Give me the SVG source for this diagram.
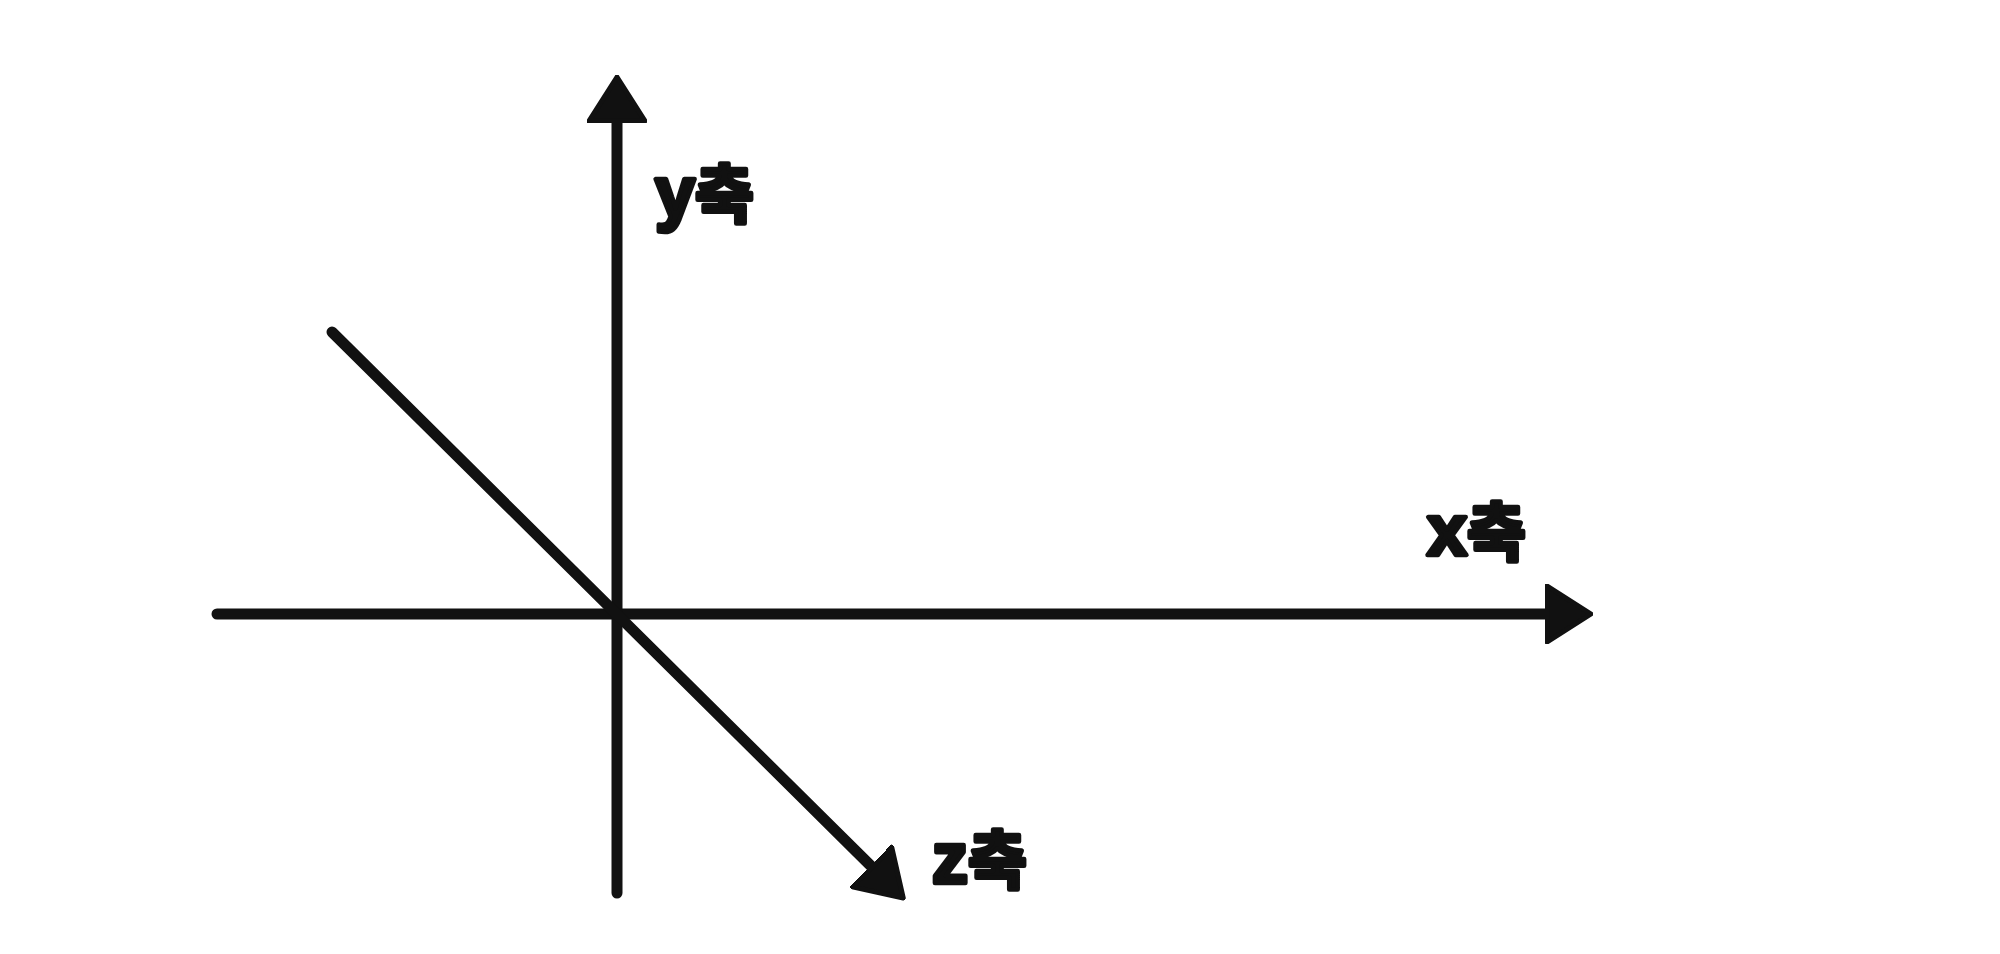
<svg xmlns="http://www.w3.org/2000/svg" width="2000" height="954" viewBox="0 0 2000 954">
<style>
.axis{stroke:#111;stroke-width:11;fill:none;stroke-linecap:round}
.lbl{font-family:"Liberation Sans","Noto Sans CJK KR",sans-serif;font-weight:bold;font-size:64px;fill:#111;stroke:#111;stroke-width:4.5;stroke-linejoin:round}
.lat{font-size:72px}
</style>
<defs>
<marker id="arrow" markerUnits="userSpaceOnUse" viewBox="0 0 48 60" refX="2" refY="30" markerWidth="48" markerHeight="60" orient="auto">
<path d="M2,2 L46,30 L2,58 Z" fill="#111" stroke="#111" stroke-width="5" stroke-linejoin="round"/>
</marker>
</defs>
<rect width="2000" height="954" fill="#fff"/>
<g id="connectors">
<line id="x-axis" class="axis" x1="217" y1="614" x2="1547" y2="614" marker-end="url(#arrow)"/>
<line id="y-axis" class="axis" x1="617" y1="893" x2="617" y2="121" marker-end="url(#arrow)"/>
<line id="z-axis" class="axis" x1="332" y1="332" x2="872" y2="867" marker-end="url(#arrow)"/>
</g>
<g id="label-y"><text class="lbl" x="655" y="217"><tspan class="lat">y</tspan>축</text></g>
<g id="label-x"><text class="lbl" x="1427" y="555"><tspan class="lat">x</tspan>축</text></g>
<g id="label-z"><text class="lbl" x="932" y="883"><tspan class="lat">z</tspan>축</text></g>
</svg>
